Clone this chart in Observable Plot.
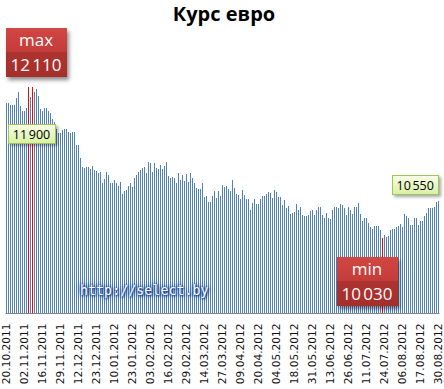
<!DOCTYPE html>
<html>
<head>
<meta charset="utf-8">
<script src="https://cdn.jsdelivr.net/npm/d3@7"></script>
<script src="https://cdn.jsdelivr.net/npm/@observablehq/plot@0.6"></script>
<style>
  html, body { margin: 0; padding: 0; background: #fff; }
  #wrap { position: relative; width: 444px; height: 389px; overflow: hidden; }
  #title { position: absolute; left: 0; width: 448px; top: 0px; text-align: center;
           font: 700 20px "Open Sans", sans-serif; color: #000; line-height: 28px; }
  .bigbox { position: absolute; width: 61px; height: 49px; color: #fff; text-align: center;
            font-family: "Open Sans", sans-serif; font-size: 17px;
            background: linear-gradient(#d04744 0%, #c43c39 50%, #ad3330 50%, #a52e2b 100%);
            box-shadow: 2px 3px 4px rgba(0,0,0,0.45); }
  .bigbox div { height: 24.5px; line-height: 24px; }
  .callout { position: absolute; height: 20px; line-height: 20px; padding: 0 4px; text-align: center;
             font-family: "Open Sans", sans-serif; font-size: 12.5px; color: #000;
             background: linear-gradient(#f8fde6, #d9f0a4); border: 1px solid #a3c35c;
             box-shadow: 2px 2px 3px rgba(0,0,0,0.35); box-sizing: border-box; }
  #wm { position: absolute; font: 13.2px "DejaVu Sans Mono", monospace; color: #fff;
        text-shadow: 0 0 2px #1a4a94, 0 0 4px #1a4a94, 0 0 6px #1a4a94, 1px 1px 2px #0f3370; letter-spacing: 0.1px; }
</style>
</head>
<body>
<div id="wrap"><div id="title">Курс евро</div></div>
<script>
const tickLabels = ["20.10.2011","02.11.2011","16.11.2011","29.11.2011","12.12.2011","23.12.2011",
  "10.01.2012","23.01.2012","03.02.2012","16.02.2012","29.02.2012","14.03.2012","27.03.2012",
  "09.04.2012","20.04.2012","04.05.2012","18.05.2012","31.05.2012","13.06.2012","26.06.2012",
  "11.07.2012","24.07.2012","06.08.2012","17.08.2012","30.08.2012"];
const tickEvery = 9;

const values = [
  11900,11900,11860,11860,11860,11960,12040,11850,11780,11790,
  11820,12110,11970,12110,12040,12080,11990,11810,11790,11820,
  11820,11790,11750,11680,11630,11530,11480,11480,11520,11530,
  11530,11490,11480,11490,11490,11310,11310,11130,11010,11000,
  11010,11010,10980,
  11020,10970,10960,10930,10940,10790,10850,10940,10900,10790,
  10790,10830,10790,10750,10810,10640,10680,10700,10750,10790,
  10740,10860,10900,10940,10970,11000,11010,10930,11080,11070,
  10940,11070,11000,10980,11040,10980,11020,11080,10890,10860,
  10870,10860,10790,10930,
  10830,10900,10820,10920,10810,10930,10860,10790,10720,10710,
  10710,10790,10600,10610,10530,10530,10610,10680,10590,10680,
  10610,10760,10740,10750,10710,10680,10830,10720,10640,10630,
  10570,10700,10630,10570,10570,10420,10520,10570,10500,10500,
  10570,10610,10610,10640,
  10670,10650,10590,10700,10670,10600,10600,10490,10560,10440,
  10480,10370,10380,10390,10500,10420,10460,10350,10340,10340,
  10350,10410,10420,10350,10420,10460,10460,10350,10310,10380,
  10310,10300,10420,10460,10460,10450,10500,10490,10440,10350,
  10460,10420,10370,10460,
  10460,10520,10370,10270,10310,10310,10240,10190,10160,10200,
  10200,10200,10150,10030,10080,10050,10060,10150,10160,10160,
  10190,10200,10230,10190,10370,10330,10310,10210,10210,10310,
  10310,10210,10270,10270,10330,10380,10450,10450,10440,10460,
  10530,10550
];
const yDomain = [9000, 12500];

const n = values.length;
const data = values.map((v, i) => ({i, v}));
const vmax = d3.max(values), vmin = d3.min(values);
const fmt = v => d3.format(",")(v).replace(",", "\u202f");

const chart = Plot.plot({
  width: 444, height: 389,
  marginLeft: 5.5, marginRight: 4.5, marginTop: 59, marginBottom: 76,
  style: {fontFamily: "DejaVu Sans", background: "transparent"},
  x: {type: "band", domain: d3.range(n), paddingInner: 0.5, paddingOuter: 0.25, axis: null},
  y: {domain: yDomain, axis: null},
  marks: [
    Plot.barY(data, {x: "i", y1: () => yDomain[0], y2: "v", shapeRendering: "crispEdges",
      fill: d => (d.v === vmax || d.v === vmin) ? "#ff0000" : "#4f81bd"}),
    Plot.ruleY([yDomain[0]], {stroke: "#868686", strokeWidth: 1.2}),
    Plot.axisX({ticks: d3.range(0, n, tickEvery), tickFormat: i => tickLabels[i / tickEvery],
      tickRotate: -90, tickSize: 0, tickPadding: 10, fontSize: 10.6, fill: "#111", label: null})
  ]
});
const wrap = document.getElementById("wrap");
wrap.insertBefore(chart, wrap.firstChild);

const xs = chart.scale("x"), ys = chart.scale("y");
const bw = xs.bandwidth;
const xc = i => xs.apply(i) + bw / 2;
const yv = v => ys.apply(v);

function add(el) { wrap.appendChild(el); return el; }

// max box
const iMax = values.indexOf(vmax);
const maxBox = add(document.createElement("div"));
maxBox.className = "bigbox";
maxBox.innerHTML = `<div>max</div><div>${fmt(vmax)}</div>`;
maxBox.style.left = (xc(iMax) - 23) + "px";
maxBox.style.top = (yv(vmax) - 59) + "px";

// min box
const iMin = values.indexOf(vmin);
const minBox = add(document.createElement("div"));
minBox.className = "bigbox";
minBox.innerHTML = `<div>min</div><div>${fmt(vmin)}</div>`;
minBox.style.left = (xc(iMin) - 46) + "px";
minBox.style.top = (yv(vmin) + 19) + "px";

// first value callout
const c1 = add(document.createElement("div"));
c1.className = "callout";
c1.textContent = fmt(values[0]);
c1.style.left = (xc(0) + 1) + "px";
c1.style.top = (yv(values[0]) + 21) + "px";
c1.style.width = "48px";

// last value callout
const c2 = add(document.createElement("div"));
c2.className = "callout";
c2.textContent = fmt(values[n - 1]);
c2.style.width = "47px";
c2.style.left = (xc(n - 1) - 47) + "px";
c2.style.top = (yv(values[n - 1]) - 26) + "px";

// watermark
const wm = add(document.createElement("div"));
wm.id = "wm";
wm.textContent = "http://select.by";
wm.style.left = "80px";
wm.style.top = "283px";
</script>
</body>
</html>
